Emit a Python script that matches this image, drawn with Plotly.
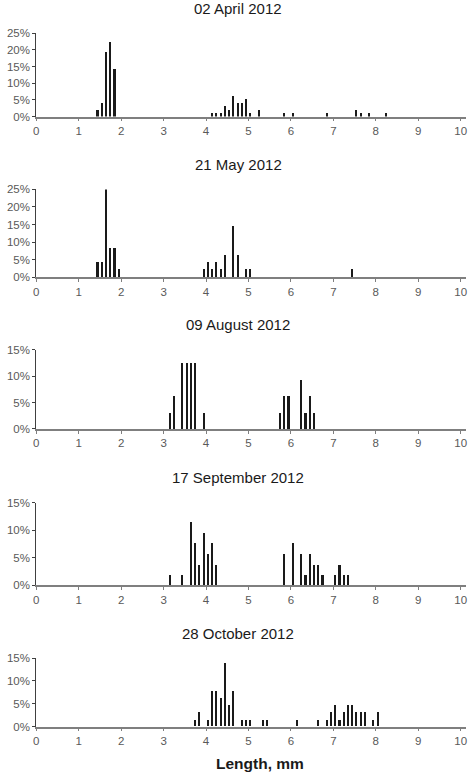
import plotly.graph_objects as go

# ---- data (length bins in mm, share of individuals in %) ----
titles = ["02 April 2012", "21 May 2012", "09 August 2012", "17 September 2012", "28 October 2012"]

len_apr = [1.45, 1.55, 1.65, 1.75, 1.85, 4.15, 4.25, 4.35, 4.45, 4.55, 4.65, 4.75, 4.85, 4.95,
           5.05, 5.25, 5.85, 6.05, 6.85, 7.55, 7.65, 7.85, 8.25]
pct_apr = [2.1, 4.1, 19.4, 22.4, 14.3, 1.0, 1.0, 1.0, 3.1, 2.0, 6.1, 4.1, 4.1, 5.1,
           1.0, 2.0, 1.0, 1.0, 1.0, 2.0, 1.0, 1.0, 1.0]

len_may = [1.45, 1.55, 1.65, 1.75, 1.85, 1.95, 3.95, 4.05, 4.15, 4.25, 4.35, 4.45, 4.65, 4.75,
           4.95, 5.05, 7.45]
pct_may = [4.2, 4.2, 25.0, 8.3, 8.3, 2.1, 2.1, 4.2, 2.1, 4.2, 2.1, 6.3, 14.6, 6.3,
           2.1, 2.1, 2.1]

len_aug = [3.15, 3.25, 3.45, 3.55, 3.65, 3.75, 3.95, 5.75, 5.85, 5.95, 6.25, 6.35, 6.45, 6.55]
pct_aug = [3.1, 6.3, 12.5, 12.5, 12.5, 12.5, 3.1, 3.1, 6.3, 6.3, 9.4, 3.1, 6.3, 3.1]

len_sep = [3.15, 3.45, 3.65, 3.75, 3.85, 3.95, 4.05, 4.15, 4.25, 5.85, 6.05, 6.25, 6.35, 6.45,
           6.55, 6.65, 6.75, 7.05, 7.15, 7.25, 7.35]
pct_sep = [1.9, 1.9, 11.5, 7.7, 3.8, 9.6, 5.8, 7.7, 3.8, 5.8, 7.7, 5.8, 1.9, 5.8,
           3.8, 3.8, 1.9, 1.9, 3.8, 1.9, 1.9]

len_oct = [3.75, 3.85, 4.05, 4.15, 4.25, 4.35, 4.45, 4.55, 4.65, 4.85, 4.95, 5.05, 5.35, 5.45,
           6.15, 6.65, 6.85, 6.95, 7.05, 7.15, 7.25, 7.35, 7.45, 7.55, 7.65, 7.75, 7.95, 8.05]
pct_oct = [1.5, 3.1, 1.5, 7.7, 7.7, 6.2, 13.8, 4.6, 7.7, 1.5, 1.5, 1.5, 1.5, 1.5,
           1.5, 1.5, 1.5, 3.1, 4.6, 1.5, 3.1, 4.6, 4.6, 3.1, 3.1, 3.1, 1.5, 3.1]

x_ticks = list(range(0, 11))
y_max = [25, 25, 15, 15, 15]
x_title = "Length, mm"

panels = [(len_apr, pct_apr), (len_may, pct_may), (len_aug, pct_aug),
          (len_sep, pct_sep), (len_oct, pct_oct)]

# ---- layout geometry (pixels on a 474 x 773 page) ----
W, H = 474, 773
SY, CY = 0.9866, 386.0   # compensation for observed vertical shrink of the rendered page
SX, CX = 0.993, 237.0    # compensation for observed horizontal shrink


def py(p):
    return CY + (p - CY) / SY


def px(p):
    return CX + (p - CX) / SX


x0_px, x10_px = px(35.0), px(460.0)
x_range = [0, 10.12]
ppm = (x10_px - x0_px) / 10
x_dom = [x0_px / W, (x0_px + ppm * x_range[1]) / W]
# (bottom px of 0%, top px of y max)
y_px = [(116.0, 32.3), (277.0, 189.0), (429.0, 349.7), (585.7, 503.0), (727.3, 658.7)]

FONT = "Liberation Sans, Arial, sans-serif"

fig = go.Figure()
layout = dict(
    autosize=True, margin=dict(l=0, r=0, t=0, b=0, pad=0),
    paper_bgcolor="white", plot_bgcolor="white", showlegend=False,
    bargap=0, font=dict(family=FONT, color="#595959"),
)
annotations = []
for i, ((xs, ys), ttl, ym, (yb, yt)) in enumerate(zip(panels, titles, y_max, y_px)):
    n = "" if i == 0 else str(i + 1)
    fig.add_trace(go.Bar(x=xs, y=ys, width=0.05, marker=dict(color="#1a1a1a", line=dict(width=0)),
                         xaxis="x" + n, yaxis="y" + n, hoverinfo="skip"))
    yt_vals = list(range(0, ym + 1, 5))
    layout["xaxis" + n] = dict(
        domain=x_dom, range=x_range, anchor="y" + n, tickvals=x_ticks,
        ticktext=[str(t) for t in x_ticks], showgrid=False, zeroline=False,
        showline=True, linecolor="#7f7f7f", linewidth=1.5,
        ticks="outside", ticklen=3, tickcolor="#7f7f7f", tickwidth=1,
        tickfont=dict(size=11.5, color="#595959"), fixedrange=True,
    )
    layout["yaxis" + n] = dict(
        domain=[1 - py(yb) / H, 1 - py(yt) / H], range=[0, ym], anchor="x" + n,
        tickvals=yt_vals, ticktext=[f"{v}%" for v in yt_vals], showgrid=False, zeroline=False,
        showline=True, linecolor="#404040", linewidth=1,
        ticks="outside", ticklen=3, tickcolor="#404040",
        tickfont=dict(size=11.5, color="#595959"), fixedrange=True,
    )
    annotations.append(dict(text=ttl, x=px(237) / W, y=1 - py(yt - 25) / H, xref="paper",
                            yref="paper", xanchor="center", yanchor="middle", showarrow=False,
                            font=dict(size=15, color="#1a1a1a", family=FONT)))

annotations.append(dict(text="<b>" + x_title + "</b>", x=px(259) / W, y=1 - py(764) / H,
                        xref="paper", yref="paper", xanchor="center", yanchor="middle",
                        showarrow=False, font=dict(size=15.5, color="#1a1a1a", family=FONT)))
layout["annotations"] = annotations
fig.update_layout(**layout)

post = ("document.documentElement.style.height='100%';"
        "document.documentElement.style.margin='0';"
        "document.body.style.height='100%';document.body.style.margin='0';"
        "document.body.style.overflow='hidden';"
        "var gd=document.getElementById('{plot_id}');"
        "if(gd.parentElement){gd.parentElement.style.height='100%';}"
        "Plotly.Plots.resize(gd);")
fig.write_html("out.html", default_width="100%", default_height="100%",
               config={"displayModeBar": False, "responsive": True}, post_script=post)
